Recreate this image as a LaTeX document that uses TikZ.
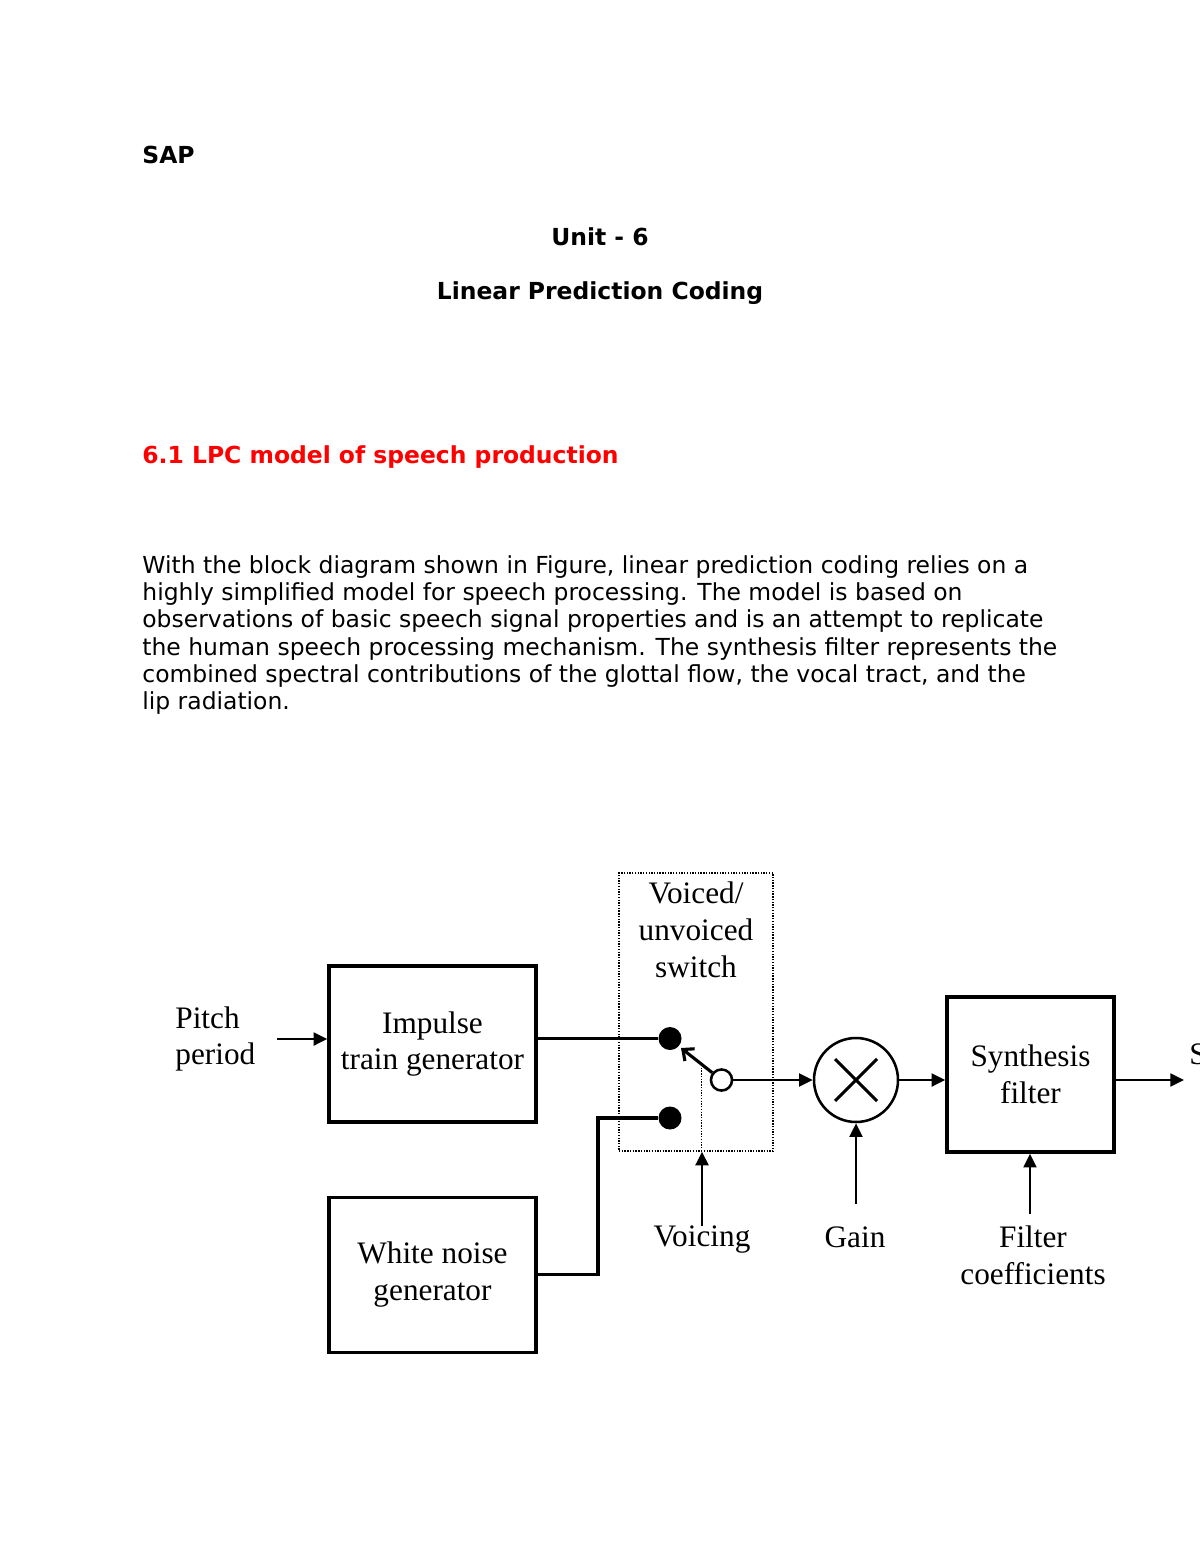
\documentclass[tikz,border=0pt]{standalone}
\usepackage{fontspec}
\setmainfont{Liberation Serif}
\newfontfamily\bodyfont{DejaVu Sans}
\usetikzlibrary{arrows.meta,positioning}
\definecolor{headred}{RGB}{255,0,0}

\begin{document}
\begin{tikzpicture}[
    x=0.017992cm, y=-0.017992cm,
    block/.style={rectangle, draw, line width=1.7pt, minimum width=3.724cm, minimum height=2.79cm, align=center, font=\fontsize{16}{18.9}\selectfont, inner sep=0pt},
    sig/.style={font=\fontsize{16}{18.9}\selectfont, align=center, inner sep=0pt},
    swbox/.style={rectangle, draw, line width=0.6pt, dash pattern=on 0.7pt off 0.7pt, minimum width=2.771cm, minimum height=5.002cm, inner sep=0pt},
    dot/.style={circle, fill, inner sep=0pt, minimum size=0.414cm},
    pivot/.style={circle, draw, line width=1.3pt, inner sep=0pt, minimum size=0.38cm},
    mixer/.style={circle, draw, line width=1.3pt, minimum size=1.511cm, inner sep=0pt},
    wire/.style={line width=1.6pt},
    arrow/.style={-{Triangle[length=7pt,width=6.5pt]}, line width=1.5pt},
    heading/.style={font=\bodyfont\bfseries\fontsize{12}{14}\selectfont, inner sep=0pt},
    body/.style={font=\bodyfont\fontsize{12}{14}\selectfont, align=left, inner sep=0pt}
]
\useasboundingbox (0,0) rectangle (1200,1553);

% Page text
\node[heading, anchor=west] (sap) at (142,155) {SAP};
\node[heading] (unit) at (600,237) {Unit - 6};
\node[heading] (title) at (600,293) {Linear Prediction Coding};
\node[heading, text=headred, anchor=west] (sec) at (142,457) {6.1 LPC model of speech production};
\node[body, anchor=north west] (para) at (142,555) {With the block diagram shown in Figure, linear prediction coding relies on a\\
highly simplified model for speech processing. The model is based on\\
observations of basic speech signal properties and is an attempt to replicate\\
the human speech processing mechanism. The synthesis filter represents the\\
combined spectral contributions of the glottal flow, the vocal tract, and the\\
lip radiation.};

% Sources
\node[sig, align=left, anchor=west] (pitch) at (175,1039) {Pitch\\period};
\node[block, minimum height=2.807cm] (impulse) at (432.5,1044) {Impulse\\train generator};
\node[block, below=1.295cm of impulse] (noise) {White noise\\generator};

% Switch
\node[swbox] (switch) at (696,1012) {};
\node[sig] (swtext) at (696,930) {Voiced/\\unvoiced\\switch};
\node[dot] (dot1) at (670,1038.5) {};
\node[dot] (dot2) at (670,1118) {};
\node[pivot] (arm) at (721.5,1080) {};
\coordinate (swtip) at (681,1048);
\coordinate (armx) at (701,1065);
\coordinate (bend) at (598,1118);

% Gain and filter
\node[mixer] (mult) at (856,1080) {};
\node[block, minimum width=3.005cm] (synth) at (1030.5,1074.5) {Synthesis\\filter};
\node[sig, anchor=west] (speech) at (1189,1054) {S};
\coordinate (out) at (1184,1080);

% Control inputs
\node[sig] (voicing) at (702,1240) {Voicing};
\node[sig] (gain) at (855,1237) {Gain};
\node[sig] (coef) at (1033,1255) {Filter\\coefficients};
\coordinate (pin) at (277,1039);
\coordinate (gainin) at (856,1204);
\coordinate (coefin) at (1030,1214);

% Wires
\draw[arrow] (pin) -- (pin -| impulse.west);
\draw[wire] (dot1 -| impulse.east) -- (dot1);
\draw[wire] (noise.east) -| (bend) -- (dot2);
\draw[wire, -{Straight Barb[length=4.5pt,width=8pt]}] (arm) -- (swtip);
\draw[line width=0.4pt, dash pattern=on 0.7pt off 0.7pt] (armx) -- (armx |- switch.south);
\draw[wire] ([shift={(-21,-21)}]mult.center) -- ([shift={(21,21)}]mult.center);
\draw[wire] ([shift={(-21,21)}]mult.center) -- ([shift={(21,-21)}]mult.center);

% Arrows - signal path
\draw[arrow] (arm) -- (mult);
\draw[arrow] (mult) -- (mult -| synth.west);
\draw[arrow] (out -| synth.east) -- (out);

% Arrows - controls
\draw[arrow] (voicing.north) -- (voicing.north |- switch.south);
\draw[arrow] (mult.south |- gainin) -- (mult.south);
\draw[arrow] (coefin) -- (coefin |- synth.south);

\end{tikzpicture}
\end{document}
